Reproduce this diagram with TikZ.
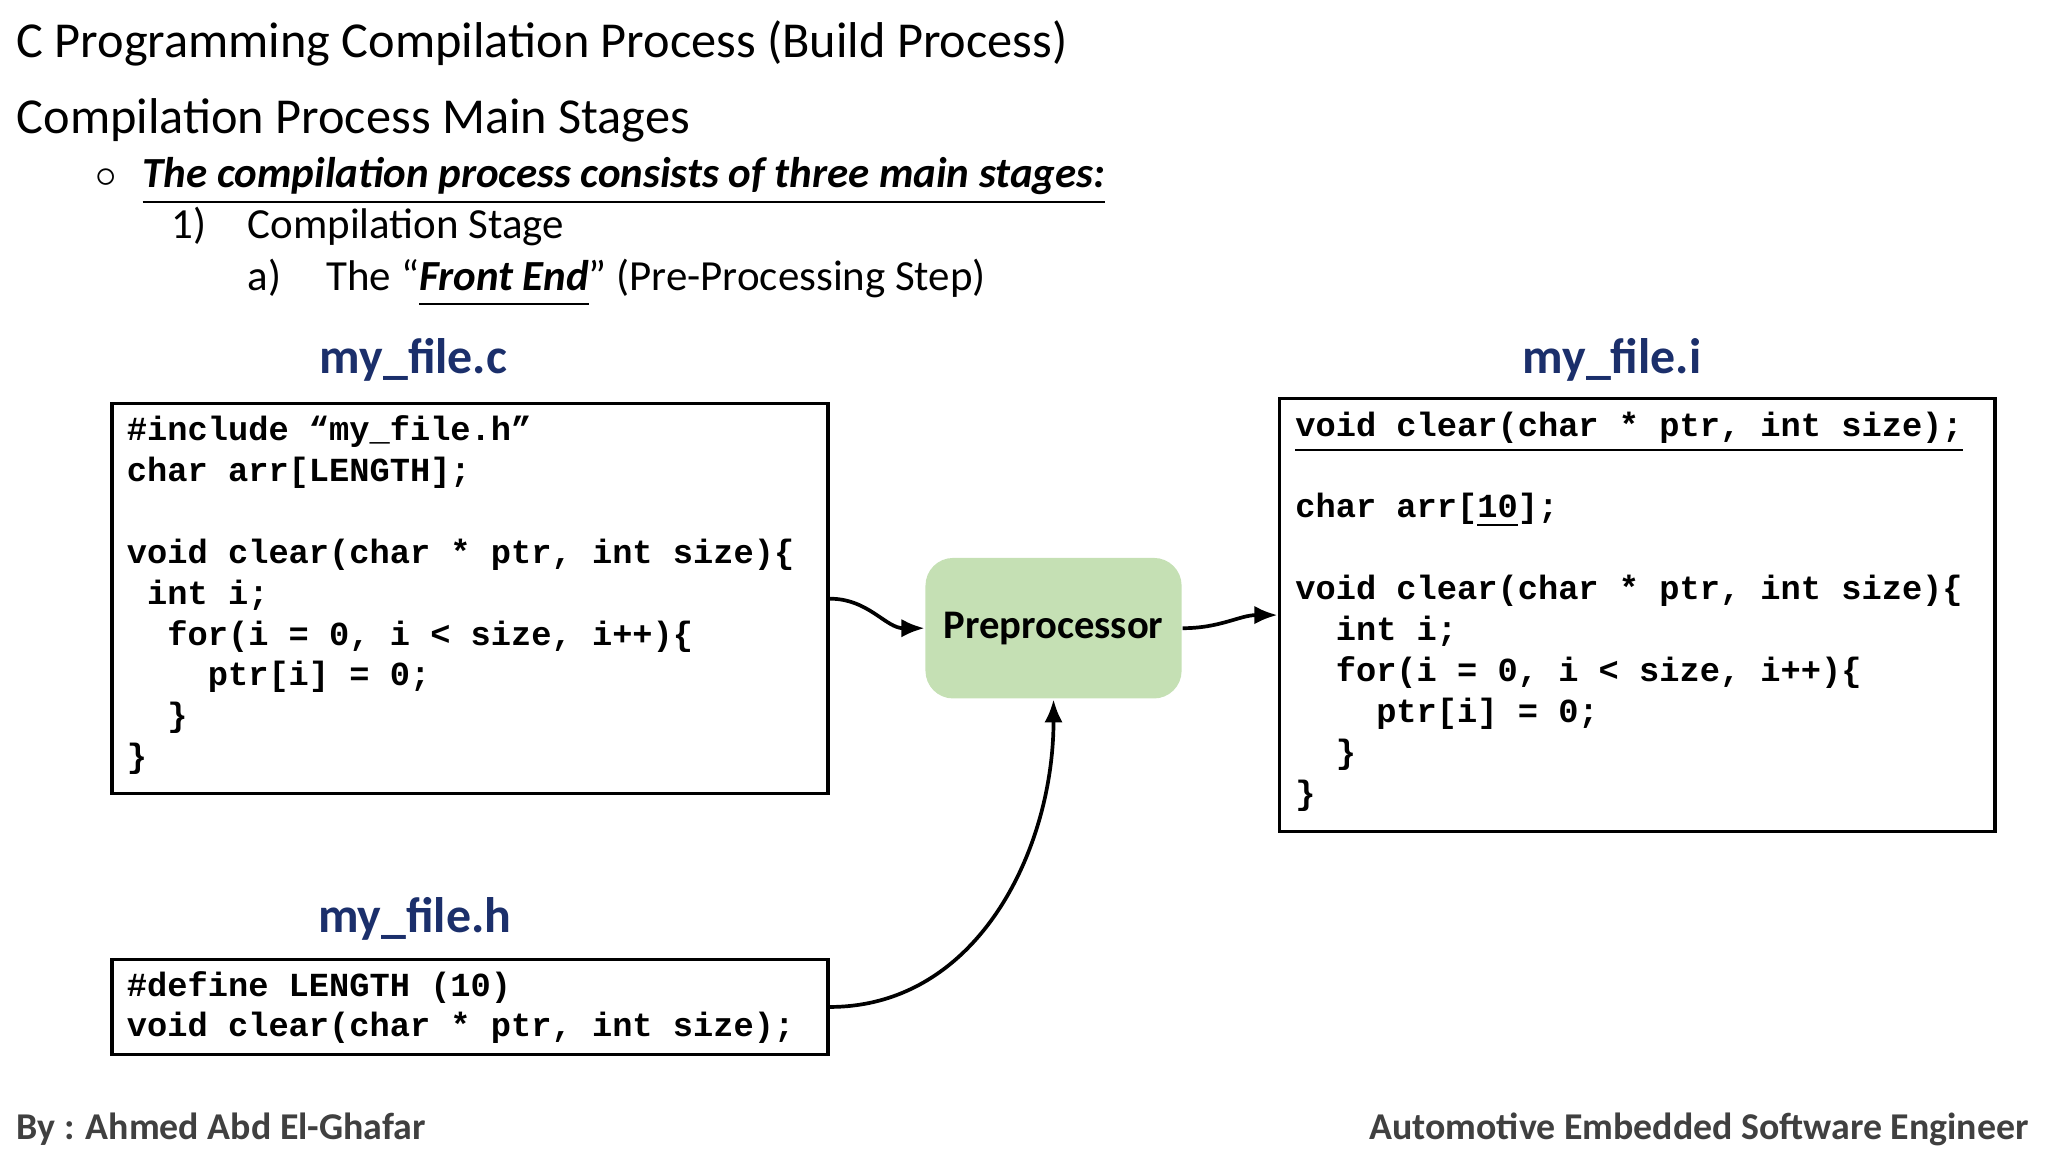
\documentclass[tikz,border=0pt]{standalone}
\usepackage{fontspec}
\setmainfont{Carlito}
\newfontfamily\codefont{Liberation Mono}
\usetikzlibrary{arrows.meta,positioning}
\definecolor{navy}{HTML}{1B2F6B}
\definecolor{prefill}{HTML}{C5E0B4}
\definecolor{footgray}{HTML}{404040}
\newcommand{\uln}[1]{\underline{\raisebox{0pt}[\height][1.6pt]{#1}}}
\begin{document}
\begin{tikzpicture}[
  x=0.01cm, y=-0.01cm,
  >={Latex[length=5pt,width=4pt]},
  heading/.style ={anchor=base west,inner sep=0pt,font=\fontsize{10.9}{13}\selectfont},
  item/.style    ={anchor=base west,inner sep=0pt,font=\fontsize{9.3}{12}\selectfont},
  fname/.style   ={inner sep=0pt,font=\bfseries\fontsize{10.8}{13}\selectfont,text=navy},
  codebox/.style ={draw,line width=0.7pt,inner sep=0pt},
  code/.style    ={anchor=north west,inner sep=0pt,align=left,font=\codefont\bfseries\fontsize{7.3}{8.85}\selectfont},
  stage/.style   ={fill=prefill,rounded corners=6pt,inner sep=0pt,font=\bfseries\fontsize{8.8}{11}\selectfont},
  foot/.style    ={inner sep=0pt,font=\bfseries\fontsize{8.2}{10}\selectfont,text=footgray},
  arrow/.style   ={->,line width=0.8pt}
]
\useasboundingbox (0,0) rectangle (1560,877.5);

% headings
\node[heading] (title) at (12,44) {C Programming Compilation Process (Build Process)};
\node[heading] (subtitle) at (12,102) {Compilation Process Main Stages};
\node[item] (bullet) at (72,143) {$\circ$};
\node[item] (stages) at (108,143) {\textbf{\textit{\uln{The compilation process consists of three main stages:}}}};
\node[item] (num1) at (130,182) {1)};
\node[item] (stage1) at (188,182) {Compilation Stage};
\node[item] (suba) at (188,221) {a)};
\node[item] (frontend) at (248,221) {The “\textbf{\textit{\uln{Front End}}}” (Pre-Processing Step)};

% source file
\node[fname] (cname) at (315,274) {my\_file.c};
\node[codebox, minimum width=5.45cm, minimum height=2.97cm] (cfile) at (358,456) {};
\node[code] (ccode) at (96,316) {%
\#include “my\_file.h”\\
char arr[LENGTH];\\
\mbox{}\\
void clear(char * ptr, int size)\{\\
\ int i;\\
\ \ for(i = 0, i < size, i++)\{\\
\ \ \ \ ptr[i] = 0;\\
\ \ \}\\
\}};

% header file
\node[fname] (hname) at (316,700) {my\_file.h};
\node[codebox, minimum width=5.45cm, minimum height=0.72cm] (hfile) at (358,767) {};
\node[code] (hcode) at (96,739) {%
\#define LENGTH (10)\\
void clear(char * ptr, int size);};

% preprocessor
\node[stage, minimum width=1.95cm, minimum height=1.07cm] (prep) at (802.5,478.5) {Preprocessor};

% output file
\node[fname] (iname) at (1228,274) {my\_file.i};
\node[codebox, minimum width=5.45cm, minimum height=3.30cm] (ifile) at (1247,468.5) {};
\node[code] (icode) at (986,313) {%
\underline{void clear(char * ptr, int size);}\\
\mbox{}\\
char arr[\underline{10}];\\
\mbox{}\\
void clear(char * ptr, int size)\{\\
\ \ int i;\\
\ \ for(i = 0, i < size, i++)\{\\
\ \ \ \ ptr[i] = 0;\\
\ \ \}\\
\}};

% connectors
\draw[arrow] (cfile.east) to[out=0,in=180] (prep.west);
\draw[arrow] (prep.east) to[out=0,in=180] (ifile.west);
\draw[arrow] (hfile.east) to[out=0,in=-90] (prep.south);

% footer
\node[foot, anchor=base west] (author) at (12,868) {By : Ahmed Abd El-Ghafar};
\node[foot, anchor=base east] (role) at (1546,868) {Automotive Embedded Software Engineer};
\end{tikzpicture}
\end{document}
